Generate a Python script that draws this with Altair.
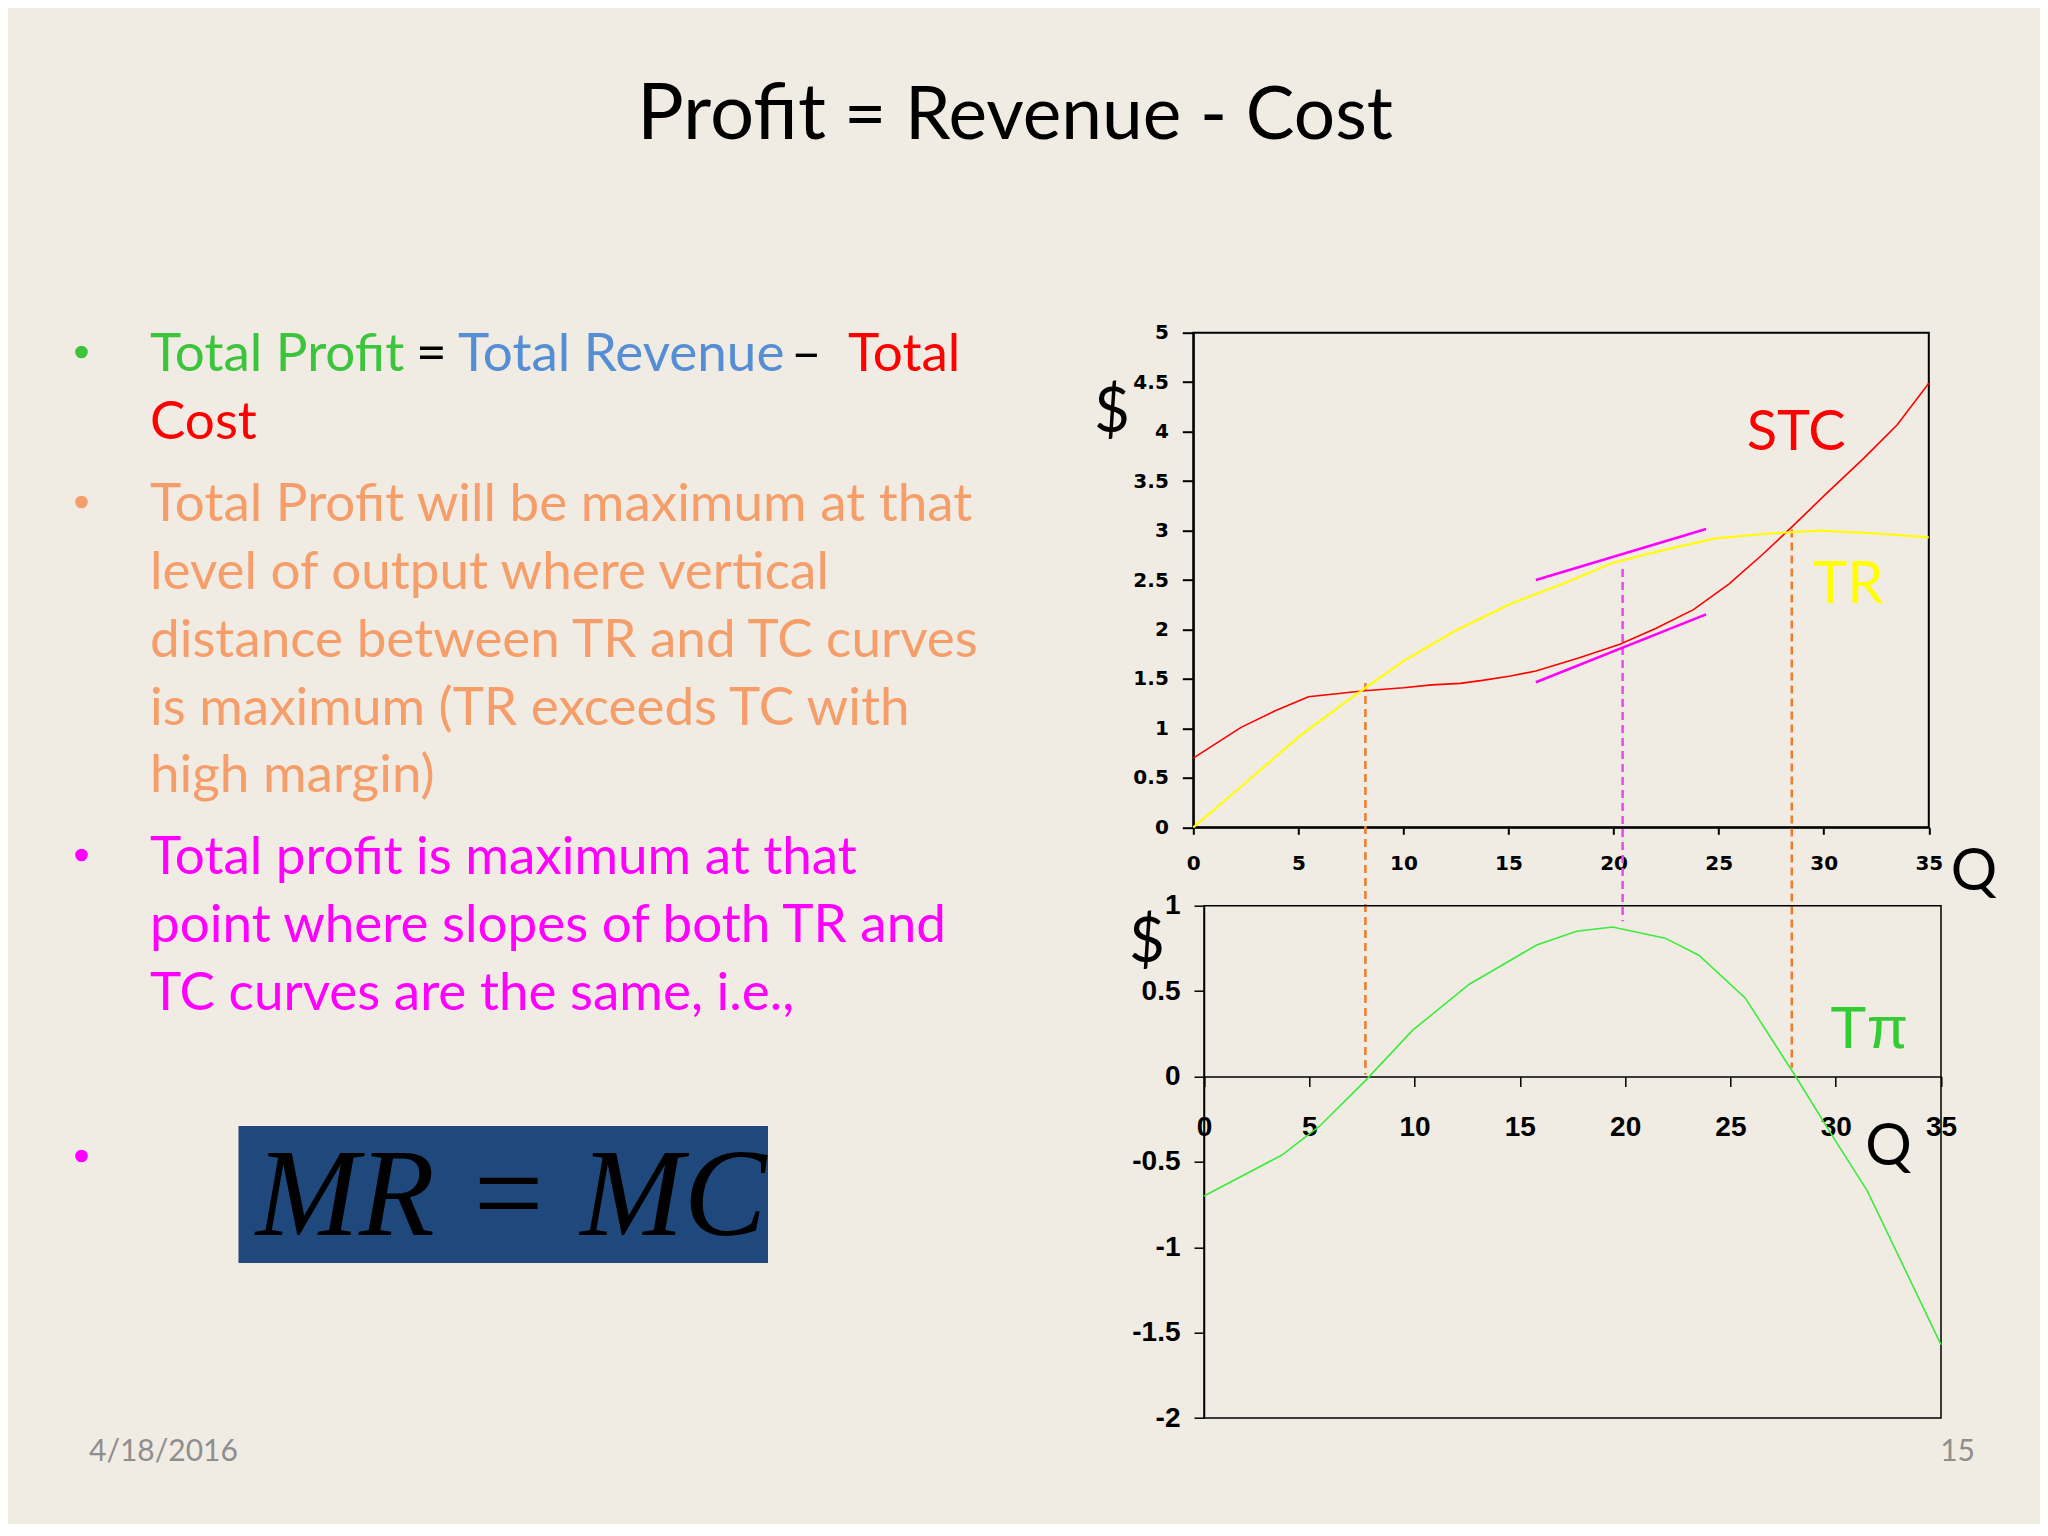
import altair as alt
import pandas as pd

# ---------------- data ----------------
stc_q = [0, 2.27, 3.87, 5.48, 8.15, 10.0, 11.35, 12.7, 13.76, 15.1, 16.3, 18.3, 20.3,
         22.0, 23.8, 25.5, 27.1, 28.5, 30.06, 31.9, 33.5, 35]
stc_v = [0.70, 1.01, 1.175, 1.32, 1.38, 1.41, 1.44, 1.455, 1.485, 1.53, 1.58, 1.71, 1.85,
         2.01, 2.20, 2.46, 2.76, 3.04, 3.36, 3.73, 4.07, 4.49]

tr_q = [0, 2.27, 5.1, 7.6, 10, 12.4, 15.1, 17.8, 19.9, 22.3, 24.85, 27.4, 29.8, 32.5, 35]
tr_v = [0, 0.41, 0.93, 1.32, 1.68, 1.98, 2.26, 2.48, 2.67, 2.80, 2.92, 2.97, 3.00, 2.97, 2.93]

pi_q = [0, 3.7, 5.5, 7.7, 9.9, 12.6, 15.8, 17.7, 19.4, 21.9, 23.5, 25.7, 28.1, 29.9, 31.5, 35]
pi_v = [-0.70, -0.46, -0.29, -0.02, 0.27, 0.54, 0.77, 0.85, 0.875, 0.81, 0.71, 0.46, 0.0,
        -0.36, -0.67, -1.57]

tan_q = [16.3, 16.3]
tan_v = [2.50, 1.466]
tan_q2 = [24.4, 24.4]
tan_v2 = [3.015, 2.153]

guide_q = [8.19, 20.43, 28.48]
guide_v = [1.46, 2.61, 3.01]
guide_v2 = [-2.50, -0.95, -2.43]
guide_c = ["#F07A2A", "#E64DE6", "#F07A2A"]

q_ticks = [0, 5, 10, 15, 20, 25, 30, 35]
top_ticks = [0, 0.5, 1, 1.5, 2, 2.5, 3, 3.5, 4, 4.5, 5]
bot_ticks = [-2, -1.5, -1, -0.5, 0, 0.5, 1]
frame_q, frame_q2, frame_v, frame_v2 = [0], [35], [-2], [1]

# ---------------- texts ----------------
title_parts = ["Profit", "= Revenue - Cost"]
line1_parts = ["Total Profit", "=", "Total Revenue", "\u2013", "Total"]
line1_colors = ["#3CC43C", "#000000", "#558ED5", "#000000", "#FF0000"]
line2_text = ["Cost"]
para2 = ["Total Profit will be maximum at that", "level of output where vertical",
         "distance between TR and TC curves", "is maximum (TR exceeds TC with",
         "high margin)"]
para3 = ["Total profit is maximum at that", "point where slopes of both TR and",
         "TC curves are the same, i.e.,"]
bullet_colors = ["#3CC43C", "#F59E6A", "#FF00FF", "#FF00FF"]
formula = "MR = MC"
footer_date = "4/18/2016"
footer_page = "15"

# ---------------- layout (page pixels) ----------------
X0, Y0 = 1193.3, 332.7          # top-left of upper plot on the page
W, H = 735.5, 494.6
def px(x): return round(x - X0, 1)
def py(y): return round(y - Y0, 1)

BX = [px(1204), px(1941)]
BY = [py(1418), py(905.7)]
ZERO_Y = py(1076.5)

BG = "#F0EBE3"
LATO = "Lato"
BODY = 53
HYPHEN = "replace(datum.label, '\u2212', '-')"

# ---------------- upper chart ----------------
ax_top_x = alt.Axis(orient="bottom", values=q_ticks, title=None, grid=False, format="~g",
                    domainColor="black", domainWidth=2, tickColor="black", tickWidth=2,
                    tickSize=7, labelFont="DejaVu Sans", labelFontWeight="bold",
                    labelFontSize=20, labelColor="black", labelPadding=19,
                    labelFlush=False, labelOverlap=False)
ax_top_y = alt.Axis(orient="left", values=top_ticks, title=None, grid=False, format="~g",
                    domainColor="black", domainWidth=2, tickColor="black", tickWidth=2,
                    tickSize=11, labelFont="DejaVu Sans", labelFontWeight="bold",
                    labelFontSize=20, labelColor="black", labelPadding=14,
                    labelFlush=False, labelOverlap=False)
xt = alt.X("q:Q", scale=alt.Scale(domain=[0, 35], range=[0, W], nice=False), axis=ax_top_x)
yt = alt.Y("v:Q", scale=alt.Scale(domain=[0, 5], range=[H, 0], nice=False), axis=ax_top_y)

stc = alt.Chart(pd.DataFrame({"q": stc_q, "v": stc_v})).mark_line(
    color="#FF0000", strokeWidth=1.6).encode(x=xt, y=yt)
tr = alt.Chart(pd.DataFrame({"q": tr_q, "v": tr_v})).mark_line(
    color="#FFFF00", strokeWidth=2.2).encode(x=xt, y=yt)
tangents = alt.Chart(pd.DataFrame({"q": tan_q, "v": tan_v, "q2": tan_q2, "v2": tan_v2})).mark_rule(
    color="#FF00FF", strokeWidth=2.5).encode(x=xt, y=yt, x2="q2:Q", y2="v2:Q")
guides = alt.Chart(pd.DataFrame({"q": guide_q, "v": guide_v, "v2": guide_v2, "c": guide_c})).mark_rule(
    strokeWidth=2.5, strokeDash=[8, 5]).encode(x=xt, y=yt, y2="v2:Q",
                                              color=alt.Color("c:N", scale=None))
upper = alt.layer(guides, stc, tr, tangents)

# ---------------- lower chart ----------------
ax_bot_x = alt.Axis(orient="bottom", offset=round(ZERO_Y - H, 1), values=q_ticks, title=None,
                    grid=False, format="~g", domainColor="black", domainWidth=1.5,
                    tickColor="black", tickWidth=1.5, tickSize=10, labelFont="Liberation Sans",
                    labelFontWeight="bold", labelFontSize=28, labelColor="black",
                    labelPadding=27, labelFlush=False, labelOverlap=False)
ax_bot_y = alt.Axis(orient="left", offset=-BX[0], values=bot_ticks, title=None, grid=False,
                    format="~g", labelExpr=HYPHEN, domainColor="black", domainWidth=1.5,
                    tickColor="black", tickWidth=1.5, tickSize=10, labelFont="Liberation Sans",
                    labelFontWeight="bold", labelFontSize=28, labelColor="black",
                    labelPadding=14, labelFlush=False, labelOverlap=False)
xb = alt.X("q:Q", scale=alt.Scale(domain=[0, 35], range=BX, nice=False), axis=ax_bot_x)
yb = alt.Y("v:Q", scale=alt.Scale(domain=[-2, 1], range=BY, nice=False), axis=ax_bot_y)

frame = alt.Chart(pd.DataFrame({"q": frame_q, "q2": frame_q2, "v": frame_v, "v2": frame_v2})).mark_rect(
    fillOpacity=0, stroke="black", strokeWidth=1.5).encode(x=xb, x2="q2:Q", y=yb, y2="v2:Q")
profit = alt.Chart(pd.DataFrame({"q": pi_q, "v": pi_v})).mark_line(
    color="#3CEB3C", strokeWidth=1.6).encode(x=xb, y=yb)
lower = alt.layer(frame, profit)


# ---------------- text helpers ----------------
def texts(strings, xs, ys, colors, font, size, weight="normal", style="normal",
          align="left", baseline="alphabetic"):
    df = pd.DataFrame({"t": strings, "x": xs, "y": ys, "c": colors})
    return alt.Chart(df).mark_text(font=font, fontSize=size, fontWeight=weight,
                                   fontStyle=style, align=align, baseline=baseline).encode(
        x=alt.X("x:Q", scale=None, axis=None), y=alt.Y("y:Q", scale=None, axis=None),
        text="t:N", color=alt.Color("c:N", scale=None))


line_x = px(150)
para2_y = [521, 589, 657, 724.5, 792.4]
para3_y = [873.8, 941.6, 1009.5]
line1_x = [150, 416, 458, 791, 848]

layers = [
    # title
    texts([title_parts[0]], [px(637)], [py(139)], ["#000000"], LATO, 78),
    texts([title_parts[1]], [px(844)], [py(139)], ["#000000"], LATO, 73),
    # bullet 1
    texts(line1_parts, [px(v) for v in line1_x], [py(371)] * 5, line1_colors, LATO, BODY),
    texts(line2_text, [line_x], [py(439)], ["#FF0000"], LATO, BODY),
    # bullet 2
    texts(para2, [line_x] * 5, [py(v) for v in para2_y], ["#F59E6A"] * 5, LATO, BODY),
    # bullet 3
    texts(para3, [line_x] * 3, [py(v) for v in para3_y], ["#FF00FF"] * 3, LATO, BODY),
    # bullets
    alt.Chart(pd.DataFrame({"x": [px(81.5)] * 4, "y": [py(352), py(502), py(855), py(1156)],
                            "c": bullet_colors})).mark_circle(size=160, opacity=1).encode(
        x=alt.X("x:Q", scale=None, axis=None), y=alt.Y("y:Q", scale=None, axis=None),
        color=alt.Color("c:N", scale=None)),
    # formula box
    alt.Chart(pd.DataFrame({"t": [formula]})).mark_rect(color="#1F497D").encode(
        x=alt.value(px(238.5)), x2=alt.value(px(768)), y=alt.value(py(1126)),
        y2=alt.value(py(1263))),
    texts([formula], [px(511)], [py(1235)], ["#000000"], "Liberation Serif", 124,
          style="italic", align="center"),
    # footer
    texts([footer_date], [px(89)], [py(1461)], ["#8E8E8E"], LATO, 30),
    texts([footer_page], [px(1975)], [py(1461)], ["#8E8E8E"], LATO, 30, align="right"),
    # chart annotations
    texts(["$"], [px(1112)], [py(432)], ["#000000"], LATO, 62, align="center"),
    texts(["Q"], [px(1974)], [py(890)], ["#000000"], LATO, 58, align="center"),
    texts(["$"], [px(1147)], [py(962)], ["#000000"], LATO, 62, align="center"),
    texts(["Q"], [px(1888.5)], [py(1165)], ["#000000"], LATO, 58, align="center"),
    texts(["STC"], [px(1746.7)], [py(450)], ["#FF0000"], LATO, 56),
    texts(["TR"], [px(1813)], [py(603)], ["#FFFF00"], LATO, 58),
    texts(["T\u03c0"], [px(1830)], [py(1048)], ["#33CC33"], "Liberation Sans", 60),
    upper,
    lower,
]

chart = alt.layer(*layers).resolve_scale(x="independent", y="independent").properties(
    width=W, height=H,
    autosize=alt.AutoSizeParams(type="none"),
    padding={"left": round(X0 - 8, 1), "top": round(Y0 - 8, 1),
             "right": round(2032 - (X0 - 8) - W, 1), "bottom": round(1516 - (Y0 - 8) - H, 1)},
    background=BG,
).configure_view(stroke="black", strokeWidth=2, fill=None)

chart.save("out.html", embed_options={"renderer": "svg", "actions": False})
